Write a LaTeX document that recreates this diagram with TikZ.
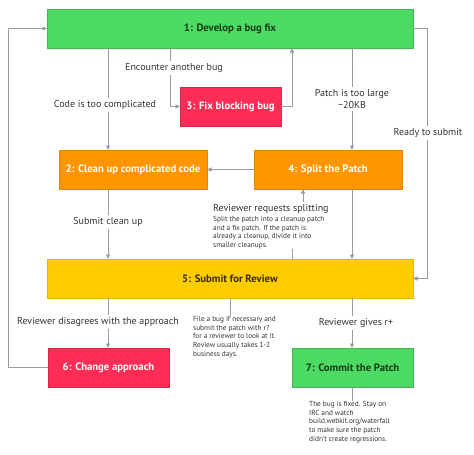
\documentclass[tikz,border=0pt]{standalone}
\usepackage{fontspec}
\setmainfont{PT Sans}
\usetikzlibrary{arrows.meta}

\definecolor{boxgreen}{HTML}{4CD964}
\definecolor{boxred}{HTML}{FF2D55}
\definecolor{boxorange}{HTML}{FF9500}
\definecolor{boxyellow}{HTML}{FFCC00}
\definecolor{linegray}{HTML}{9B9B9B}
\definecolor{darkgreen}{HTML}{143D14}
\definecolor{darkbrown}{HTML}{3A2A00}

\begin{document}
\begin{tikzpicture}[x=1pt, y=-1pt,
		box_style/.style={rectangle,inner sep=0pt,outer sep=0pt,minimum height=39pt,
			font=\fontsize{10.7}{12}\selectfont\bfseries},
		label_style/.style={inner sep=2pt,font=\fontsize{10}{11.5}\selectfont,text=black!80},
		note_style/.style={inner sep=0pt,align=left,font=\fontsize{7.3}{8.7}\selectfont,text=black!80},
		line_style/.style={draw=linegray,line width=0.9pt},
		arrow_style/.style={line_style,-{Triangle[length=4.5pt,width=4pt]}}]

		\useasboundingbox (0,0) rectangle (474,455);

		% boxes
		\node[box_style,fill=boxgreen,draw=boxgreen!85!black,text=darkgreen,minimum width=366pt] (n1) at (230,28.5) {1: Develop a bug fix};
		\node[box_style,fill=boxorange,draw=boxorange!90!black,text=white,minimum width=148pt] (n2) at (133,169.5) {2: Clean up complicated code};
		\node[box_style,fill=boxred,draw=boxred!85!black,text=white,minimum width=101pt] (n3) at (230.5,106.5) {3: Fix blocking bug};
		\node[box_style,fill=boxorange,draw=boxorange!90!black,text=white,minimum width=148pt] (n4) at (328,169.5) {4: Split the Patch};
		\node[box_style,fill=boxyellow,draw=boxyellow!90!black,text=darkbrown,minimum width=366pt] (n5) at (230,278.5) {5: Submit for Review};
		\node[box_style,fill=boxred,draw=boxred!85!black,text=white,minimum width=121pt] (n6) at (108.5,367.5) {6: Change approach};
		\node[box_style,fill=boxgreen,draw=boxgreen!85!black,text=darkgreen,minimum width=121pt] (n7) at (352.5,367.5) {7: Commit the Patch};

		% labels
		\node[label_style] (l_complicated) at (105,105) {Code is too complicated};
		\node[label_style] (l_another) at (174,68) {Encounter another bug};
		\node[label_style,align=center] (l_large) at (352,99) {Patch is too large\\\textasciitilde20KB};
		\node[label_style] (l_ready) at (428,133) {Ready to submit};
		\node[label_style] (l_cleanup) at (108,222) {Submit clean up};
		\node[label_style,anchor=west] (l_split) at (211,209) {Reviewer requests splitting};
		\node[note_style,anchor=north west] (d_split) at (213,216) {Split the patch into a cleanup patch\\and a fix patch. If the patch is\\already a cleanup, divide it into\\smaller cleanups.};
		\node[label_style] (l_disagree) at (98,322) {Reviewer disagrees with the approach};
		\node[note_style,anchor=north west] (d_review) at (193,316) {File a bug if necessary and\\submit the patch with r?\\for a reviewer to look at it.\\Review usually takes 1-2\\business days.};
		\node[label_style] (l_rplus) at (356,323) {Reviewer gives r+};
		\node[note_style,anchor=north west] (d_commit) at (309,401) {The bug is fixed. Stay on\\IRC and watch\\build.webkit.org/waterfall\\to make sure the patch\\didn't create regressions.};

		% lanes
		\coordinate (xa) at (108,0);
		\coordinate (xb) at (170,0);
		\coordinate (xc) at (292,0);
		\coordinate (xd) at (352,0);
		\coordinate (xe) at (427,0);
		\coordinate (xf) at (8,0);
		\coordinate (xg) at (230,0);
		\coordinate (xh) at (303,0);

		% connectors
		\draw[line_style] (n1.south -| xa) -- (l_complicated.north -| xa);
		\draw[arrow_style] (l_complicated.south -| xa) -- (n2.north -| xa);
		\draw[line_style] (n1.south -| xb) -- (l_another.north -| xb);
		\draw[arrow_style] (l_another.south -| xb) |- (n3.west);
		\draw[arrow_style] (n3.east) -| (n1.south -| xc);
		\draw[line_style] (n1.south -| xd) -- (l_large.north -| xd);
		\draw[arrow_style] (l_large.south -| xd) -- (n4.north -| xd);
		\draw[line_style] (n1.east) -| (l_ready.north -| xe);
		\draw[arrow_style] (l_ready.south -| xe) |- (n5.east);
		\draw[arrow_style] (n4.west) -- (n2.east);
		\draw[line_style] (n2.south -| xa) -- (l_cleanup.north -| xa);
		\draw[arrow_style] (l_cleanup.south -| xa) -- (n5.north -| xa);
		\draw[line_style] (n5.north -| xc) -- (d_split.south -| xc);
		\draw[arrow_style] (l_split.north -| xh) -- (n4.south -| xh);
		\draw[arrow_style] (n4.south -| xd) -- (n5.north -| xd);
		\draw[line_style] (n5.south -| xa) -- (l_disagree.north -| xa);
		\draw[arrow_style] (l_disagree.south -| xa) -- (n6.north -| xa);
		\draw[line_style] (n5.south -| xg) -- (d_review.north -| xg);
		\draw[line_style] (n5.south -| xd) -- (l_rplus.north -| xd);
		\draw[arrow_style] (l_rplus.south -| xd) -- (n7.north -| xd);
		\draw[line_style] (n7.south -| xd) -- (d_commit.north -| xd);
		\draw[arrow_style] (n6.west) -- (n6.west -| xf) |- (n1.west);

\end{tikzpicture}
\end{document}
